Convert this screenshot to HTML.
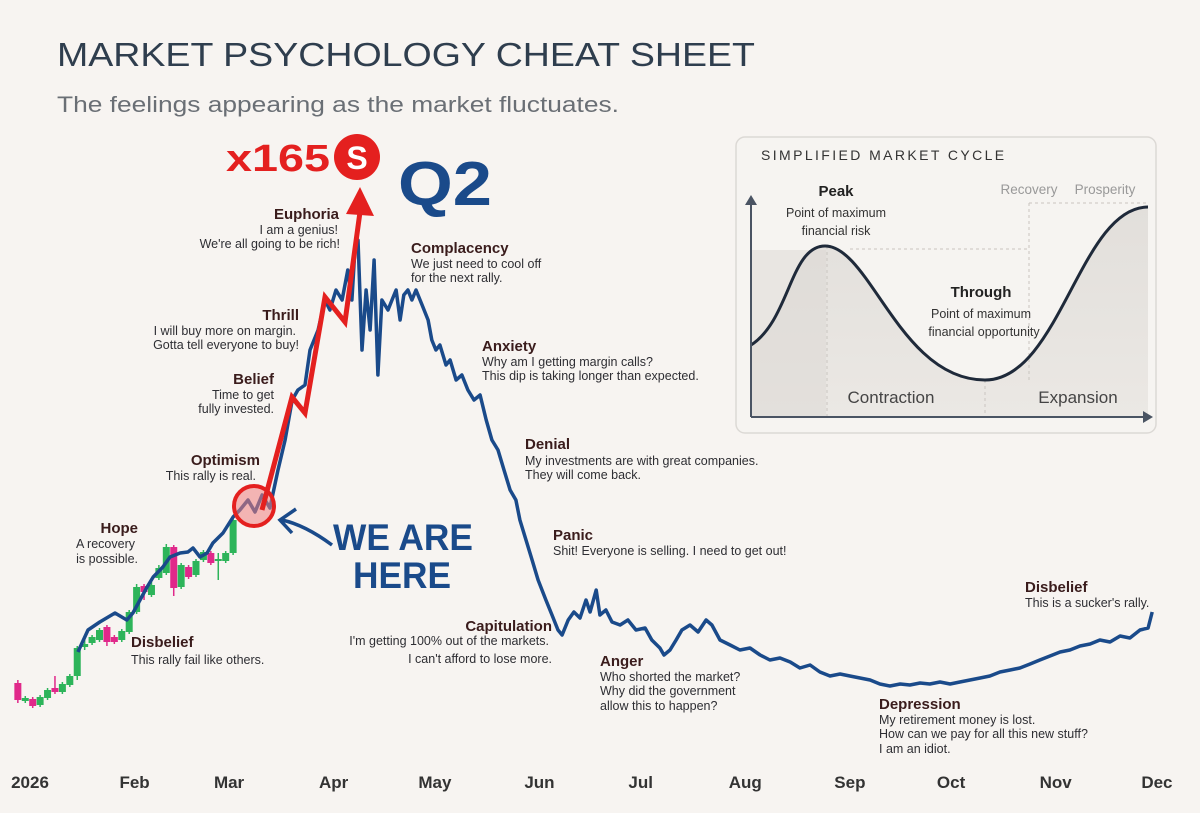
<!DOCTYPE html>
<html><head><meta charset="utf-8">
<style>
html,body{margin:0;padding:0;background:#f7f4f1;}
svg{display:block;font-family:"Liberation Sans",sans-serif;}
.h{font-weight:bold;font-size:15px;fill:#3a1c1c;}
.d{font-size:12.5px;fill:#2e2e33;}
.ax{font-weight:bold;font-size:17px;fill:#333;}
</style></head>
<body>
<svg id="chart" width="1200" height="813" viewBox="0 0 1200 813">
<rect width="1200" height="813" fill="#f7f4f1"/>
<text x="57" y="66" font-size="33" fill="#2f3e4e" textLength="698" lengthAdjust="spacingAndGlyphs">MARKET PSYCHOLOGY CHEAT SHEET</text>
<text x="57" y="112" font-size="22" fill="#6a6f75" textLength="562" lengthAdjust="spacingAndGlyphs">The feelings appearing as the market fluctuates.</text>

<!-- inset -->
<g>
<defs><linearGradient id="gf" x1="0" y1="0" x2="0" y2="1"><stop offset="0" stop-color="#e2dfdb"/><stop offset="1" stop-color="#ebe8e4"/></linearGradient></defs>
<rect x="736" y="137" width="420" height="296" rx="9" fill="#f6f4f1" stroke="#dcd9d5" stroke-width="1.5"/>
<text x="761" y="160" font-size="14" fill="#333" letter-spacing="2.4">SIMPLIFIED MARKET CYCLE</text>
<path d="M751,345 C790,320 790,246 825,246 C870,246 900,380 985,380 C1060,380 1080,207 1148,207 L1148,417 L751,417 Z" fill="url(#gf)"/>
<rect x="751" y="250" width="75" height="167" fill="#dcd8d3" opacity="0.5"/>
<g stroke="#c9c5c0" stroke-dasharray="3,3" stroke-width="1" fill="none">
<path d="M827,246 V417 M850,249 H1030 M985,380 V417 M1029,203 V380 M1029,203 H1148"/>
</g>
<path d="M751,345 C790,320 790,246 825,246 C870,246 900,380 985,380 C1060,380 1080,207 1148,207" fill="none" stroke="#1f2a3a" stroke-width="3"/>
<path d="M751,417 V200 M1148,417 H751" stroke="#4a5463" stroke-width="2" fill="none"/>
<path d="M745,205 L751,195 L757,205 Z M1143,411 L1153,417 L1143,423 Z" fill="#4a5463"/>
<text x="836" y="196" text-anchor="middle" font-weight="bold" font-size="15" fill="#222">Peak</text>
<text x="836" y="217" text-anchor="middle" font-size="12.5" fill="#333">Point of maximum</text>
<text x="836" y="235" text-anchor="middle" font-size="12.5" fill="#333">financial risk</text>
<text x="981" y="297" text-anchor="middle" font-weight="bold" font-size="15" fill="#222">Through</text>
<text x="981" y="318" text-anchor="middle" font-size="12.5" fill="#333">Point of maximum</text>
<text x="984" y="336" text-anchor="middle" font-size="12.5" fill="#333">financial opportunity</text>
<text x="1029" y="194" text-anchor="middle" font-size="13.5" fill="#999">Recovery</text>
<text x="1105" y="194" text-anchor="middle" font-size="13.5" fill="#999">Prosperity</text>
<text x="891" y="403" text-anchor="middle" font-size="17" fill="#444">Contraction</text>
<text x="1078" y="403" text-anchor="middle" font-size="17" fill="#444">Expansion</text>
</g>

<g id="candles"></g>
<g id="line"></g>
<g id="axis"></g>

<!-- annotations -->
<circle cx="254" cy="506" r="20" fill="#f08080" fill-opacity="0.55" stroke="#e4201f" stroke-width="4"/>
<path d="M262,510 L292,397 L305,413 L325,297 L345,322 L360,212" fill="none" stroke="#e4201f" stroke-width="5" stroke-linejoin="miter"/>
<path d="M346,214 L360,187 L374,216 Z" fill="#e4201f"/>
<text x="226" y="171" font-weight="bold" font-size="38" fill="#e4201f" textLength="104" lengthAdjust="spacingAndGlyphs">x165</text>
<circle cx="357" cy="157" r="23" fill="#e4201f"/>
<text x="357" y="169" text-anchor="middle" font-weight="bold" font-size="32" fill="#fff">S</text>
<text x="398" y="205" font-weight="bold" font-size="62" fill="#1a4a8a" textLength="94" lengthAdjust="spacingAndGlyphs">Q2</text>
<path d="M332,545 Q305,525 282,520" fill="none" stroke="#1a4a8a" stroke-width="3.5"/>
<path d="M296,509 L280,520 L292,533" fill="none" stroke="#1a4a8a" stroke-width="3.5"/>
<text x="333" y="550" font-weight="bold" font-size="37" fill="#1a4a8a" textLength="140" lengthAdjust="spacingAndGlyphs">WE ARE</text>
<text x="353" y="588" font-weight="bold" font-size="37" fill="#1a4a8a" textLength="98" lengthAdjust="spacingAndGlyphs">HERE</text>

<g>
<g text-anchor="end">
<text class="h" x="339" y="219">Euphoria</text><text class="d" x="338" y="234">I am a genius!</text><text class="d" x="340" y="248">We're all going to be rich!</text>
<text class="h" x="299" y="320">Thrill</text><text class="d" x="296" y="335">I will buy more on margin.</text><text class="d" x="299" y="349">Gotta tell everyone to buy!</text>
<text class="h" x="274" y="384">Belief</text><text class="d" x="274" y="399">Time to get</text><text class="d" x="274" y="413">fully invested.</text>
<text class="h" x="260" y="465">Optimism</text><text class="d" x="256" y="480">This rally is real.</text>
<text class="h" x="138" y="533">Hope</text><text class="d" x="135" y="548">A recovery</text><text class="d" x="138" y="563">is possible.</text>
<text class="h" x="552" y="631">Capitulation</text><text class="d" x="549" y="645">I'm getting 100% out of the markets.</text><text class="d" x="552" y="663">I can't afford to lose more.</text>
</g>
<text class="h" x="411" y="253">Complacency</text><text class="d" x="411" y="268">We just need to cool off</text><text class="d" x="411" y="282">for the next rally.</text>
<text class="h" x="482" y="351">Anxiety</text><text class="d" x="482" y="366">Why am I getting margin calls?</text><text class="d" x="482" y="380">This dip is taking longer than expected.</text>
<text class="h" x="525" y="449">Denial</text><text class="d" x="525" y="465">My investments are with great companies.</text><text class="d" x="525" y="479">They will come back.</text>
<text class="h" x="553" y="540">Panic</text><text class="d" x="553" y="555">Shit! Everyone is selling. I need to get out!</text>
<text class="h" x="131" y="647">Disbelief</text><text class="d" x="131" y="664">This rally fail like others.</text>
<text class="h" x="600" y="666">Anger</text><text class="d" x="600" y="681">Who shorted the market?</text><text class="d" x="600" y="695">Why did the government</text><text class="d" x="600" y="710">allow this to happen?</text>
<text class="h" x="879" y="709">Depression</text><text class="d" x="879" y="724">My retirement money is lost.</text><text class="d" x="879" y="738">How can we pay for all this new stuff?</text><text class="d" x="879" y="753">I am an idiot.</text>
<text class="h" x="1025" y="592">Disbelief</text><text class="d" x="1025" y="607">This is a sucker's rally.</text>
</g>
</svg>
<script>
const monthLabels = ["2026","Feb","Mar","Apr","May","Jun","Jul","Aug","Sep","Oct","Nov","Dec"];
const monthDays = [0,31,59,90,120,151,181,212,243,273,304,334];
const lineDays = [14.2,17.2,20.7,25.2,28.7,30.5,32.6,34.7,36.5,39.4,41.5,44.5,46.8,48.3,50.4,52.5,54.2,57.2,60.2,62.2,64.6,66.7,68.8,71.1,73.5,75.6,77.7,79.4,81.5,83,85.4,87.4,88.9,90.7,92.5,94.2,95.4,96.3,97.2,98.4,99.6,100.8,102,103.1,104.3,106.1,107.3,108.5,109.7,110.8,112,113.2,114.4,116.2,118,119.1,120.3,121.5,123.3,124.5,126.3,128,129.8,131.6,133.4,135.2,136.9,138.7,140.5,142.3,144,145.2,147,148.8,150.6,152.9,154.7,156.5,157.7,159.5,161.2,163,164.8,166,167.8,168.9,170.7,172.5,174.9,177.2,179.6,182.3,184.3,186.7,187.9,189.7,191.5,193.2,195.6,198,200.4,202.1,204.5,207.5,210.4,213.4,216.4,219.3,222.3,225.3,228.2,231.2,234.1,237.1,240.1,243,246,249,251.9,254.9,257.9,260.8,263.8,266.7,269.7,272.7,275.6,278.6,281.6,284.5,287.5,290.5,293.4,296.4,299.3,302.3,305.3,308.2,311.2,314.2,317.1,320.1,323.1,326,329,331.4,332.6];
const linePrices = [108,130,138,147,140,147,160,173,183,193,203,207,208,212,203,207,217,227,243,250,260,248,265,252,290,320,360,370,375,410,430,460,450,470,460,490,460,510,520,410,470,430,500,385,460,450,460,470,440,465,470,460,470,455,440,420,410,415,395,400,380,385,370,360,365,340,320,310,290,270,260,240,220,200,180,160,145,130,125,140,148,142,160,148,170,145,150,138,135,140,130,132,120,112,105,110,120,130,135,128,140,135,120,115,110,112,105,100,102,98,92,95,88,84,86,84,82,80,76,74,76,75,77,76,78,76,78,80,82,84,88,90,92,96,100,104,108,110,114,116,120,118,124,122,130,132,148];
const candleDays = [-3.6,-1.4,0.8,3.0,5.2,7.4,9.6,11.8,14.0,16.2,18.4,20.6,22.8,25.0,27.2,29.4,31.6,33.8,36.0,38.2,40.4,42.6,44.8,47.0,49.2,51.4,53.6,55.8,58.0,60.2];
const candleOpen  = [77,59,61,55,62,72,68,75,84,113,117,120,133,123,120,128,148,174,165,182,187,213,173,193,185,200,207,200,199,207];
const candleClose = [60,62,54,63,70,68,76,84,112,116,123,130,118,118,129,148,173,168,175,192,213,172,195,183,199,208,197,201,207,240];
const candleHigh  = [80,64,63,65,72,84,78,86,114,120,125,132,135,125,131,150,176,176,178,195,216,215,197,195,201,210,209,207,209,242];
const candleLow   = [57,57,52,53,60,66,66,73,80,110,115,118,114,116,118,126,146,160,163,180,185,164,171,181,183,198,195,180,197,205];

const NS = "http://www.w3.org/2000/svg";
const xScale = d => 30 + d * 3.374;
const yScale = p => 760 - p;

const axis = document.getElementById('axis');
monthLabels.forEach((m, i) => {
  const t = document.createElementNS(NS, 'text');
  t.setAttribute('x', xScale(monthDays[i]));
  t.setAttribute('y', 788);
  t.setAttribute('text-anchor', 'middle');
  t.setAttribute('class', 'ax');
  t.textContent = m;
  
  
  axis.appendChild(t);
});

const cg = document.getElementById('candles');
candleDays.forEach((d, i) => {
  const up = candleClose[i] >= candleOpen[i];
  const col = up ? '#2db45a' : '#e0288a';
  const x = xScale(d);
  const w = document.createElementNS(NS, 'line');
  w.setAttribute('x1', x); w.setAttribute('x2', x);
  w.setAttribute('y1', yScale(candleHigh[i])); w.setAttribute('y2', yScale(candleLow[i]));
  w.setAttribute('stroke', col); w.setAttribute('stroke-width', 1.5);
  
  
  cg.appendChild(w);
  const r = document.createElementNS(NS, 'rect');
  const top = yScale(Math.max(candleOpen[i], candleClose[i]));
  const h = Math.max(2, Math.abs(candleOpen[i] - candleClose[i]));
  r.setAttribute('x', x - 3.5); r.setAttribute('y', top);
  r.setAttribute('width', 7); r.setAttribute('height', h);
  r.setAttribute('fill', col);
  
  
  cg.appendChild(r);
});

const lg = document.getElementById('line');
const p = document.createElementNS(NS, 'path');
p.setAttribute('d', lineDays.map((d, i) => (i ? 'L' : 'M') + xScale(d).toFixed(1) + ',' + yScale(linePrices[i]).toFixed(1)).join(' '));
p.setAttribute('fill', 'none');
p.setAttribute('stroke', '#1a4a8a');
p.setAttribute('stroke-width', 3.5);
p.setAttribute('stroke-linejoin', 'round');


lg.appendChild(p);
</script>
</body></html>
